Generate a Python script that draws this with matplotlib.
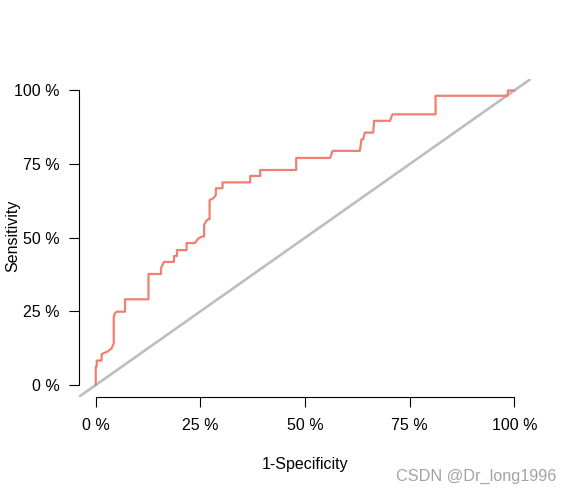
import numpy as np
import matplotlib
matplotlib.use('Agg')
import matplotlib.pyplot as plt

plt.rcParams['font.family'] = ['Liberation Sans', 'DejaVu Sans']

# ROC curve vertices (percent)
fpr = [0, 0, 0.24, 0.24, 1.4, 1.4, 2.0, 2.9, 3.8, 4.3, 4.3, 4.6, 5.0, 7.0, 7.0,
       12.6, 12.6, 15.6, 15.6, 16.3, 18.7, 18.7, 19.4, 19.4, 21.7, 21.7, 23.7,
       24.4, 25.3, 25.9, 25.9, 26.4, 26.9, 27.2, 27.2, 28.1, 28.7, 28.7, 30.3,
       30.3, 36.9, 36.9, 39.3, 39.3, 47.9, 47.9, 56.0, 56.6, 63.1, 63.5, 63.9,
       64.3, 66.3, 66.5, 70.3, 70.9, 81.2, 81.2, 98.4, 98.5, 100]
tpr = [0, 6.2, 6.2, 8.3, 8.3, 10.4, 10.9, 11.4, 12.5, 14.2, 23.0, 24.4, 24.9,
       24.9, 29.1, 29.1, 37.7, 37.7, 39.7, 41.8, 41.8, 43.8, 43.8, 45.8, 45.8,
       48.2, 48.2, 49.6, 50.4, 50.4, 54.3, 55.7, 56.3, 56.3, 62.8, 63.4, 64.5,
       66.8, 66.8, 68.8, 68.8, 71.0, 71.0, 73.0, 73.0, 77.1, 77.1, 79.5, 79.5,
       83.4, 83.4, 85.7, 85.7, 89.7, 89.7, 91.9, 91.9, 98.2, 98.2, 100, 100]

ticks = [0, 25, 50, 75, 100]
tick_labels = ['0 %', '25 %', '50 %', '75 %', '100 %']

W, H = 572, 495
fig = plt.figure(figsize=(W / 100, H / 100), dpi=100)
ax = fig.add_axes([79 / W, 1 - 396.8 / H, 452 / W, 318.1 / H])

# chance line and ROC curve
ax.axline((0, 0), (100, 100), color='#BEBEBE', lw=1.9, zorder=2)
ax.plot(fpr, tpr, color='#F0806F', lw=1.6, zorder=3)

ax.set_xlim(-4, 104)
ax.set_ylim(-4, 104)

for s in ['top', 'right']:
    ax.spines[s].set_visible(False)
for s in ['left', 'bottom']:
    ax.spines[s].set_bounds(0, 100)
    ax.spines[s].set_linewidth(0.8)

ax.set_xticks(ticks)
ax.set_xticklabels(tick_labels)
ax.set_yticks(ticks)
ax.set_yticklabels(tick_labels)
ax.tick_params(axis='both', length=7.2, width=0.8, labelsize=11.5)
ax.tick_params(axis='x', pad=8)
ax.tick_params(axis='y', pad=7)

ax.set_xlabel('1-Specificity', fontsize=11.5)
ax.set_ylabel('Sensitivity', fontsize=11.5)
ax.xaxis.set_label_coords(0.5, (396.8 - 465) / 318.1)
ax.xaxis.label.set_va('center')
ax.yaxis.set_label_coords((13 - 79) / 452, 0.505)
ax.yaxis.label.set_va('center')

fig.text(556 / W, 1 - 476 / H, 'CSDN @Dr_long1996', ha='right', va='center',
         fontsize=11.7, color='#A3A3A3')

fig.savefig('out.png', dpi=100)
